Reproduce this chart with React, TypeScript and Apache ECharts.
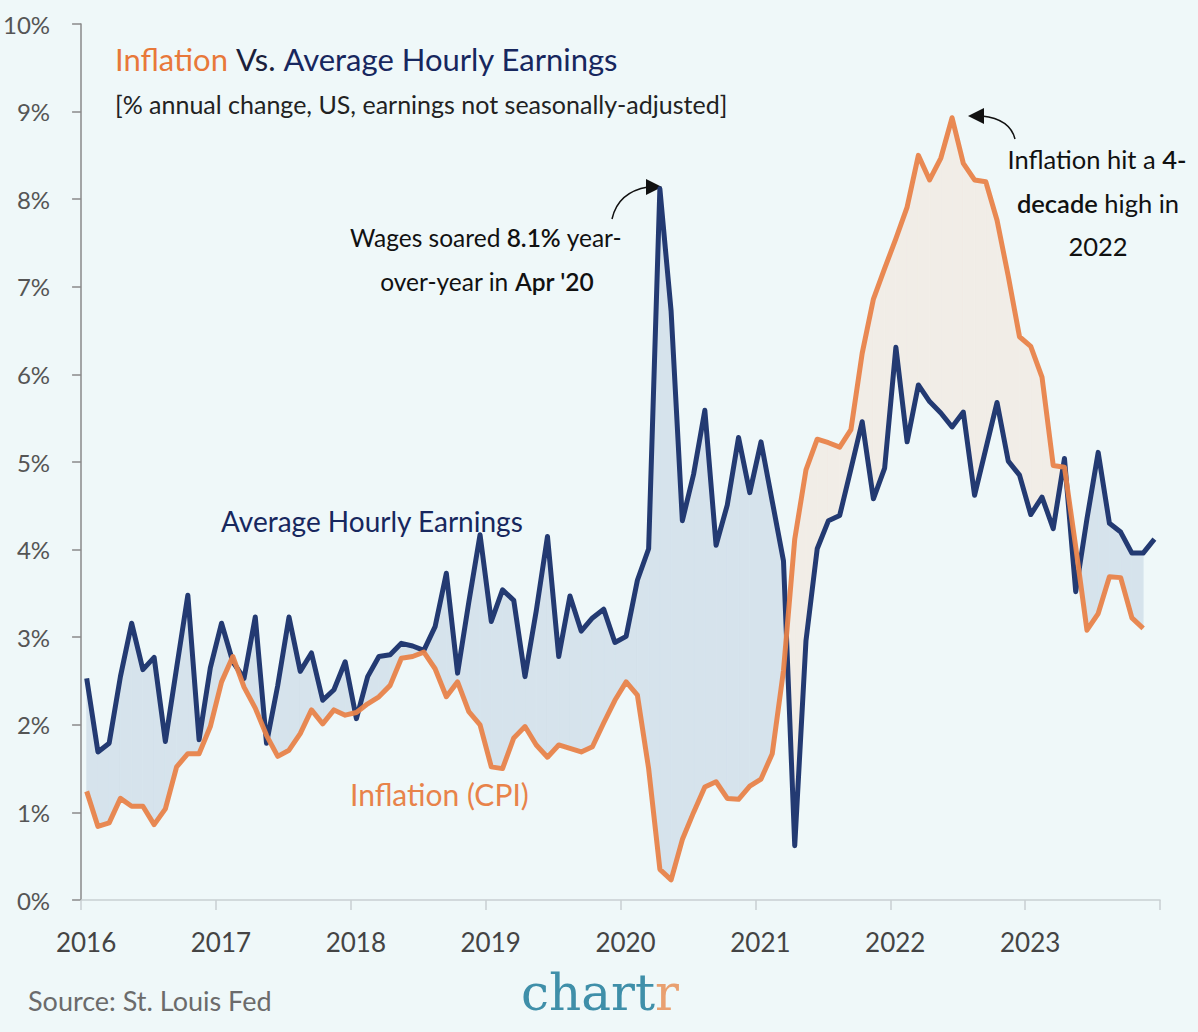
import React, { useEffect, useRef } from "react";
import * as echarts from "echarts";

// Monthly data, Jan 2016 .. Dec 2023 (earnings) / Nov 2023 (CPI)
const yearLabels = ["2016", "2017", "2018", "2019", "2020", "2021", "2022", "2023"];

const earnings = [
  // 2016
  2.53, 1.69, 1.79, 2.55, 3.16, 2.63, 2.77, 1.81, 2.65, 3.48, 1.83, 2.65,
  // 2017
  3.16, 2.72, 2.53, 3.23, 1.79, 2.45, 3.23, 2.61, 2.82, 2.28, 2.4, 2.72,
  // 2018
  2.07, 2.55, 2.78, 2.8, 2.93, 2.9, 2.85, 3.12, 3.73, 2.59, 3.4, 4.17,
  // 2019
  3.18, 3.54, 3.42, 2.55, 3.3, 4.15, 2.78, 3.47, 3.07, 3.22, 3.32, 2.94,
  // 2020
  3.01, 3.65, 4.01, 8.12, 6.72, 4.33, 4.86, 5.59, 4.05, 4.51, 5.28, 4.65,
  // 2021
  5.23, 4.55, 3.87, 0.62, 2.96, 4.01, 4.33, 4.39, 4.92, 5.46, 4.58, 4.93,
  // 2022
  6.31, 5.23, 5.88, 5.69, 5.56, 5.4, 5.57, 4.62, 5.15, 5.68, 5.01, 4.85,
  // 2023
  4.4, 4.6, 4.24, 5.04, 3.52, 4.35, 5.11, 4.3, 4.2, 3.96, 3.96, 4.12,
];

const inflation = [
  // 2016
  1.24, 0.84, 0.88, 1.16, 1.07, 1.07, 0.86, 1.04, 1.52, 1.67, 1.67, 1.98,
  // 2017
  2.49, 2.78, 2.43, 2.19, 1.88, 1.64, 1.71, 1.9, 2.17, 2.01, 2.17, 2.11,
  // 2018
  2.14, 2.24, 2.32, 2.45, 2.76, 2.78, 2.83, 2.64, 2.32, 2.49, 2.15, 2.0,
  // 2019
  1.52, 1.5, 1.85, 1.98, 1.77, 1.63, 1.77, 1.73, 1.69, 1.75, 2.02, 2.28,
  // 2020
  2.49, 2.34, 1.5, 0.35, 0.23, 0.69, 1.0, 1.29, 1.35, 1.16, 1.15, 1.3,
  // 2021
  1.38, 1.67, 2.62, 4.12, 4.91, 5.26, 5.22, 5.17, 5.37, 6.24, 6.86, 7.21,
  // 2022
  7.55, 7.91, 8.5, 8.22, 8.47, 8.93, 8.41, 8.22, 8.2, 7.76, 7.12, 6.43,
  // 2023
  6.32, 5.97, 4.96, 4.94, 4.03, 3.08, 3.27, 3.69, 3.68, 3.22, 3.1,
];

const NAVY = "#233a72";
const ORANGE = "#e8834a";
const FILL_BLUE = "#d6e3ec";
const FILL_BEIGE = "#f1ede7";
const BG = "#eff8f9";
const FONT = "Lato";

export default function App() {
  const ref = useRef<HTMLDivElement>(null);

  useEffect(() => {
    document.body.style.margin = "0";
    const chart = echarts.init(ref.current!, null, { renderer: "svg" });

    const earnData = earnings.map((v, i) => [i + 0.5, v]);
    const inflData = inflation.map((v, i) => [i + 0.5, v]);
    const segData = inflation.slice(0, -1).map((v, i) => [i + 0.5, v]);

    const renderFill = (params: any, api: any) => {
      const i = params.dataIndex;
      const e0 = earnings[i], e1 = earnings[i + 1];
      const f0 = inflation[i], f1 = inflation[i + 1];
      const x0 = i + 0.5, x1 = i + 1.5;
      const d0 = e0 - f0, d1 = e1 - f1;
      const col = (d: number) => (d >= 0 ? FILL_BLUE : FILL_BEIGE);
      const poly = (pts: number[][], c: string) => ({
        type: "polygon",
        shape: { points: pts.map((p) => api.coord(p)) },
        style: { fill: c, stroke: c, lineWidth: 0.8 },
      });
      if (d0 * d1 >= 0) {
        return poly([[x0, e0], [x1, e1], [x1, f1], [x0, f0]], col(d0 + d1));
      }
      const t = d0 / (d0 - d1);
      const xc = x0 + t;
      const yc = e0 + t * (e1 - e0);
      return {
        type: "group",
        children: [
          poly([[x0, e0], [xc, yc], [x0, f0]], col(d0)),
          poly([[xc, yc], [x1, e1], [x1, f1]], col(d1)),
        ],
      };
    };

    const txt = (x: number, y: number, text: string, size: number, color: string, align = "left", weight: any = "normal", rich?: any) => ({
      type: "text",
      x,
      y,
      style: {
        text,
        fontSize: size,
        fontFamily: FONT,
        fill: color,
        fontWeight: weight,
        align,
        verticalAlign: "middle",
        rich,
      },
    });

    const annRich = (size: number) => ({
      a: { fontSize: size, fontFamily: FONT, fill: "#111", fontWeight: "normal" },
      b: { fontSize: size, fontFamily: FONT, fill: "#111", fontWeight: 600 },
    });

    const option: any = {
      animation: false,
      backgroundColor: BG,
      grid: { left: 79, right: 38, top: 24, bottom: 132 },
      xAxis: {
        type: "value",
        min: 0,
        max: 96,
        interval: 12,
        axisLine: { show: true, lineStyle: { color: "#c9cfd2", width: 1.5 } },
        axisTick: { show: true, length: 10, lineStyle: { color: "#c9cfd2", width: 1.5 } },
        splitLine: { show: false },
        axisLabel: {
          margin: 29,
          fontSize: 26,
          fontFamily: FONT,
          color: "#444",
          padding: [0, 0, 0, 10],
          formatter: (v: number) => yearLabels[Math.round(v / 12)] ?? "",
        },
      },
      yAxis: {
        type: "value",
        min: 0,
        max: 10,
        interval: 1,
        axisLine: { show: true, lineStyle: { color: "#8a8a8a", width: 1.5 } },
        axisTick: { show: true, length: 9, lineStyle: { color: "#8a8a8a", width: 1.5 } },
        splitLine: { show: false },
        axisLabel: {
          margin: 31,
          fontSize: 24,
          fontFamily: FONT,
          color: "#555",
          formatter: "{value}%",
        },
      },
      series: [
        {
          type: "custom",
          data: segData,
          renderItem: renderFill,
          z: 1,
          silent: true,
        },
        {
          type: "line",
          data: earnData,
          showSymbol: false,
          lineStyle: { color: NAVY, width: 5, join: "round" },
          z: 3,
        },
        {
          type: "line",
          data: inflData,
          showSymbol: false,
          lineStyle: { color: ORANGE, width: 5, join: "round", opacity: 0.95 },
          z: 4,
        },
      ],
      graphic: [
        txt(115, 59, "{o|Inflation} {d|Vs.} {n|Average Hourly Earnings}", 31, NAVY, "left", "normal", {
          o: { fontSize: 31, fontFamily: FONT, fill: "#e8783a" },
          d: { fontSize: 31, fontFamily: FONT, fill: "#1b1f3b" },
          n: { fontSize: 31, fontFamily: FONT, fill: "#17275e" },
        }),
        txt(115, 104, "[% annual change, US, earnings not seasonally-adjusted]", 25, "#222"),
        txt(221, 521, "Average Hourly Earnings", 28, "#17275e"),
        txt(350, 794, "Inflation (CPI)", 30, ORANGE),
        txt(486, 237, "{a|Wages soared }{b|8.1%}{a| year-}", 24.5, "#111", "center", "normal", annRich(24.5)),
        txt(487, 281, "{a|over-year in }{b|Apr '20}", 24.5, "#111", "center", "normal", annRich(24.5)),
        txt(1097, 159, "{a|Inflation hit a }{b|4-}", 25.5, "#111", "center", "normal", annRich(25.5)),
        txt(1098, 203, "{b|decade}{a| high in}", 25.5, "#111", "center", "normal", annRich(25.5)),
        txt(1098, 246, "{a|2022}", 25.5, "#111", "center", "normal", annRich(25.5)),
        {
          type: "bezierCurve",
          shape: { x1: 612, y1: 219, cpx1: 618, cpy1: 192, x2: 648, y2: 187 },
          style: { stroke: "#111", lineWidth: 1.5, fill: null },
        },
        {
          type: "polygon",
          shape: { points: [[646, 179], [662, 187], [646, 195]] },
          style: { fill: "#111" },
        },
        {
          type: "bezierCurve",
          shape: { x1: 1015, y1: 139, cpx1: 1010, cpy1: 119, x2: 982, y2: 116 },
          style: { stroke: "#111", lineWidth: 1.5, fill: null },
        },
        {
          type: "polygon",
          shape: { points: [[984, 108], [968, 116], [984, 124]] },
          style: { fill: "#111" },
        },
        txt(28, 1000, "Source: St. Louis Fed", 27, "#6b6b6b"),
        {
          type: "text",
          x: 600,
          y: 993,
          style: {
            text: "{t|chart}{r|r}",
            align: "center",
            verticalAlign: "middle",
            rich: {
              t: { fontSize: 50, fontFamily: "DejaVu Serif", fill: "#3f8fa9" },
              r: { fontSize: 50, fontFamily: "DejaVu Serif", fill: "#e9a070" },
            },
          },
        },
      ],
    };

    chart.setOption(option);
    return () => chart.dispose();
  }, []);

  return <div ref={ref} style={{ width: 1198, height: 1032 }} />;
}
